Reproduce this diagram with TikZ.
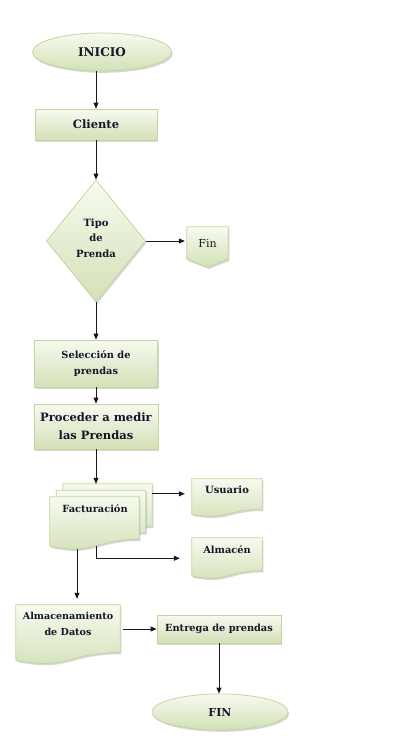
\documentclass[tikz,border=0pt]{standalone}
\usepackage{fontspec}
\setmainfont{DejaVu Serif}
\usetikzlibrary{shapes.geometric,arrows.meta,calc,shadows}
\definecolor{fillTop}{RGB}{247,250,240}
\definecolor{fillBot}{RGB}{210,225,182}
\definecolor{edgec}{RGB}{196,214,160}
\definecolor{txt}{RGB}{22,22,40}
\definecolor{lnc}{RGB}{25,25,25}
\tikzset{
  box/.style={draw=edgec, line width=0.8pt, top color=fillTop, bottom color=fillBot,
    drop shadow={shadow xshift=1.2pt, shadow yshift=-1.8pt, opacity=0.22, fill=black!70}},
  frame/.style={rectangle, draw=none, inner sep=0pt},
  lbl/.style 2 args={font=\bfseries\fontsize{#1}{#2}\selectfont, text=txt, align=center, inner sep=0pt},
  arr/.style={draw=lnc, line width=0.8pt, -{Triangle[length=6pt,width=5pt]}},
  plain/.style={draw=lnc, line width=0.8pt}
}
\newcommand\docshape[1]{%
  \path[box] let \p1=(#1.north west), \p2=(#1.south east), \n1={\x2-\x1}, \n2={\y1-\y2} in
    (\x1,\y1) -- (\x2,\y1) -- (\x2,{\y1-0.802*\n2})
    .. controls ({\x1+0.5*\n1},{\y1-0.802*\n2}) and ({\x1+0.5*\n1},{\y1-1.107*\n2}) ..
    (\x1,{\y1-0.934*\n2}) -- cycle;}
\begin{document}
\begin{tikzpicture}[x=1pt,y=-1pt]
\fill[white] (0,0) rectangle (411,739);
\useasboundingbox (0,0) rectangle (411,739);

% --- shapes ---
\node[ellipse, box, minimum width=139pt, minimum height=38pt, inner sep=0pt, lbl={12}{14}] (ini) at (102,52) {INICIO};
\node[rectangle, box, minimum width=122pt, minimum height=31pt, lbl={11.5}{14}] (cli) at (96,124.5) {Cliente};
\node[diamond, box, minimum width=99pt, minimum height=122pt, inner sep=0pt] (tipo) at (96,241) {};
\node[lbl={10}{15.5}] (tipot) at (96,238) {Tipo\\de\\Prenda};

\node[frame, minimum width=41pt, minimum height=40pt] (fin) at (207.5,247) {};
\path[box] (fin.north west) -- (fin.north east) -- ($(fin.north east)!0.8!(fin.south east)$)
   -- (fin.south) -- ($(fin.north west)!0.8!(fin.south west)$) -- cycle;
\node[font=\fontsize{11}{13}\selectfont, text=txt, inner sep=0pt] (fint) at (207.5,243) {Fin};

\node[rectangle, box, minimum width=123pt, minimum height=47pt, lbl={9.8}{16}] (sel) at (96,363.5) {Selección de\\prendas};
\node[rectangle, box, minimum width=124pt, minimum height=45pt, lbl={11.5}{18}] (pro) at (96,426.5) {Proceder a medir\\las Prendas};

% Facturacion (multi-document)
\node[frame, minimum width=102pt, minimum height=65.5pt] (fac) at (101,516.75) {};
\node[frame, minimum width=89pt, minimum height=52.5pt] (facb) at (107.5,510.25) {};
\node[frame, minimum width=89pt, minimum height=52.5pt] (facm) at (101,516.75) {};
\node[frame, minimum width=89pt, minimum height=52.5pt] (facf) at (94.5,523.25) {};
\docshape{facb}
\docshape{facm}
\docshape{facf}
\node[lbl={9.8}{14}] (fact) at (95,509) {Facturación};

\node[frame, minimum width=70pt, minimum height=37.5pt] (usu) at (227,497.75) {};
\docshape{usu}
\node[lbl={10}{14}] (usut) at (227,490) {Usuario};

\node[frame, minimum width=70pt, minimum height=40.5pt] (alc) at (227,558.25) {};
\docshape{alc}
\node[lbl={9.8}{14}] (alct) at (227,550) {Almacén};

\node[frame, minimum width=104pt, minimum height=59pt] (ald) at (68,634.5) {};
\docshape{ald}
\node[lbl={9.6}{16}] (aldt) at (68,624) {Almacenamiento\\de Datos};

\node[rectangle, box, minimum width=124pt, minimum height=28pt, lbl={9.8}{14}] (ent) at (219,629) {Entrega de prendas};
\node[ellipse, box, minimum width=136pt, minimum height=36pt, inner sep=0pt, lbl={11}{14}] (fn) at (220,712) {FIN};

% --- connectors ---
\draw[arr] (cli.north |- ini.south) -- (cli.north);
\draw[arr] (cli.south) -- (tipo.north);
\draw[arr, shorten >=2pt] (tipo.east) -- (tipo.east -| fin.west);
\draw[arr] (tipo.south) -- (tipo.south |- sel.north);
\draw[arr] (sel.south) -- (sel.south |- pro.north);
\draw[arr] (pro.south) -- (pro.south |- fac.north);
\draw[arr, shorten >=7pt] ([yshift=-10pt]facb.north east) -- ([yshift=-10pt]facb.north east -| usu.west);
\coordinate (fs1) at ($(pro.south |- facf.south)+(0,-3.5)$);
\draw[arr, shorten >=12pt] (fs1) |- (alc.west);
\coordinate (fs2) at ($(facf.south)+(-17.5,-0.5)$);
\draw[arr, shorten >=6pt] (fs2) -- (fs2 |- ald.north);
\draw[arr, shorten <=3pt] (ald.east |- ent.west) -- (ent.west);
\draw[arr] (ent.south) -- (ent.south |- fn.north);
\end{tikzpicture}
\end{document}
